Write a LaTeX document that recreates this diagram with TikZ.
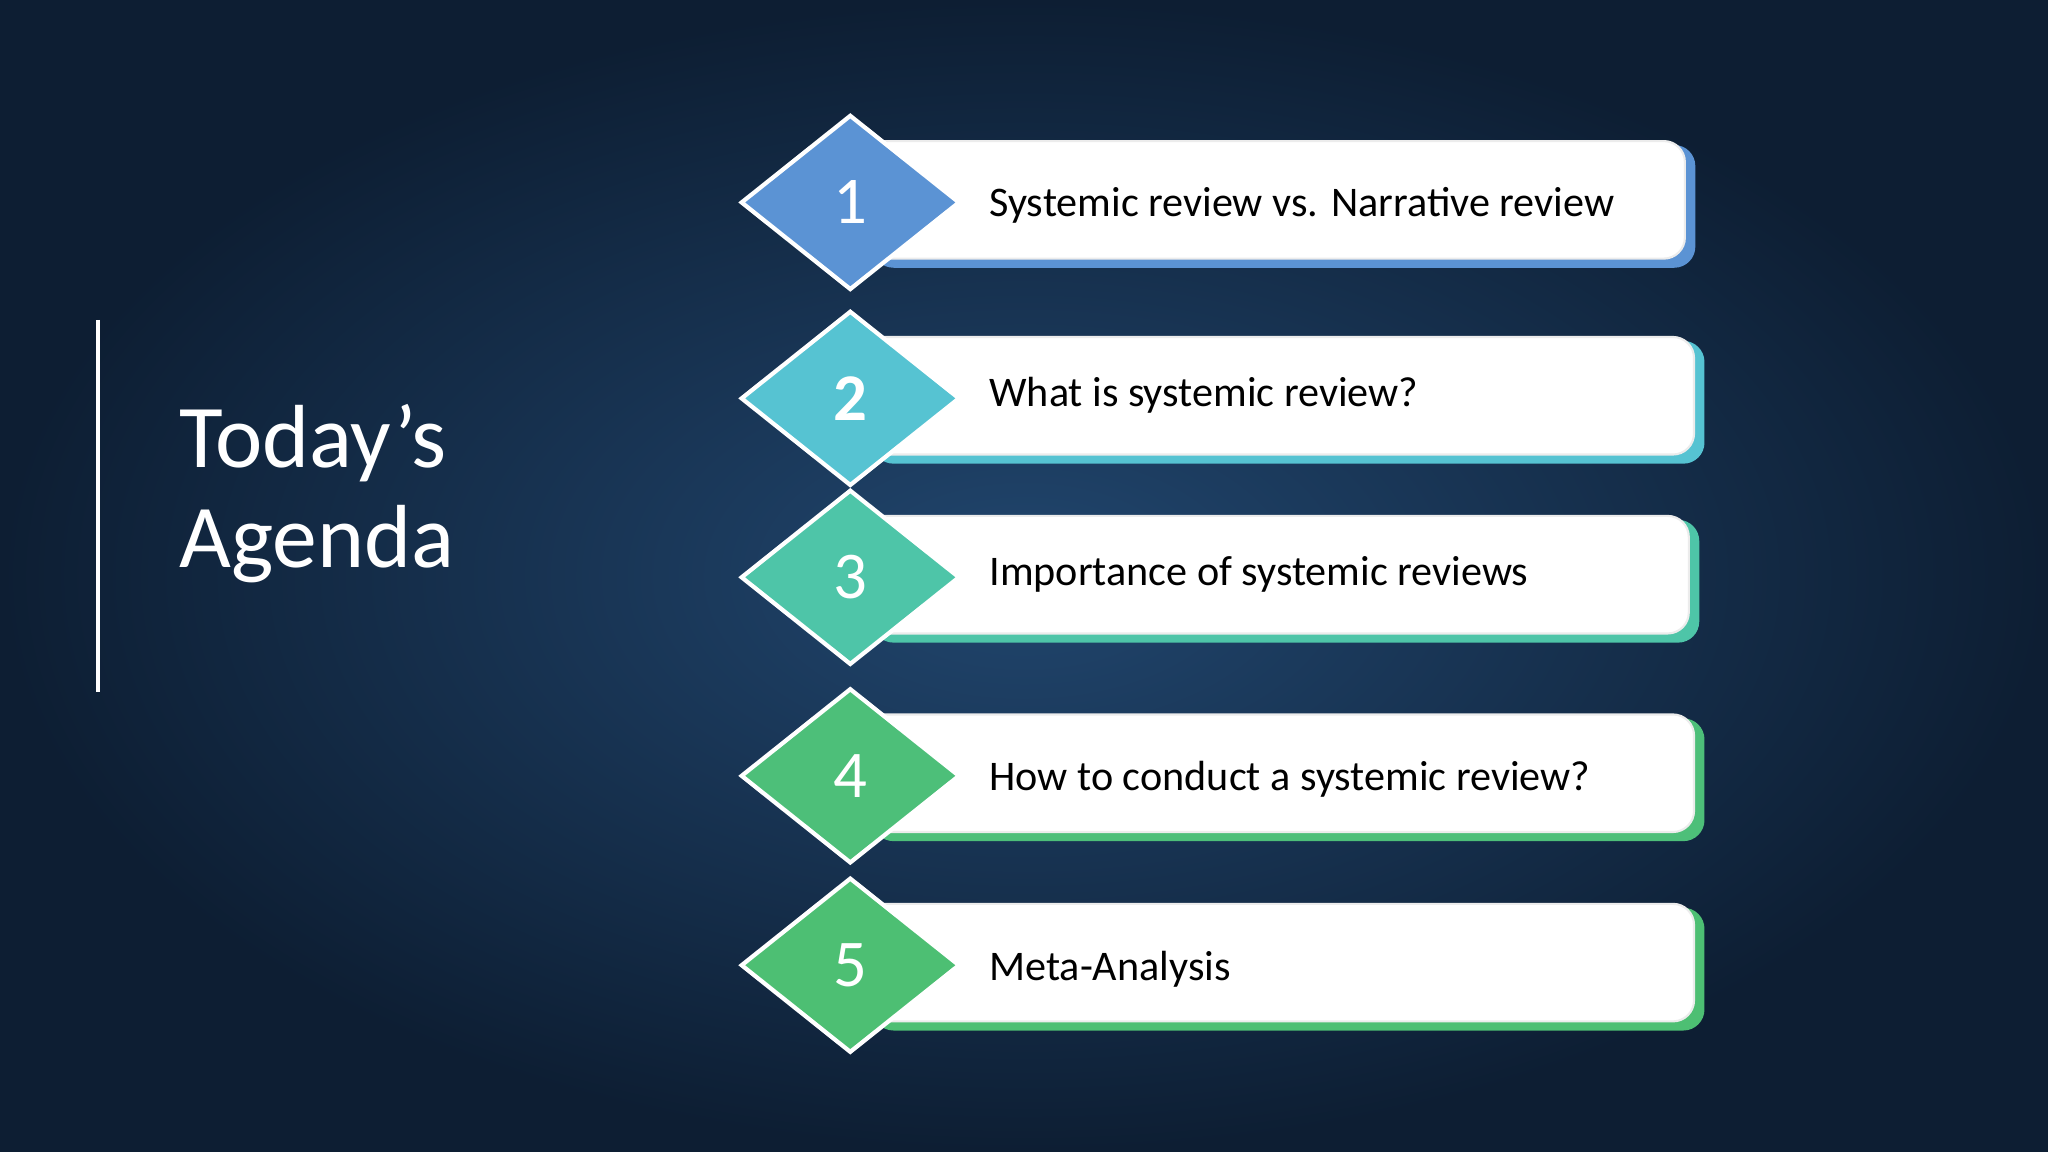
\documentclass[tikz,border=0pt]{standalone}
\usepackage{fontspec}
\setmainfont{Carlito}
\usetikzlibrary{shapes.geometric}
\definecolor{bgdark}{HTML}{0D1E33}
\definecolor{bglight}{HTML}{21466E}
\definecolor{cone}{HTML}{5B93D4}
\definecolor{ctwo}{HTML}{56C3D2}
\definecolor{cthree}{HTML}{4EC5A8}
\definecolor{cfour}{HTML}{4DBF79}
\definecolor{cfive}{HTML}{4DBF73}
\tikzset{
  itembox/.style={draw=white!85!gray,fill=white,rounded corners=6pt,line width=0.6pt},
  itemnum/.style={diamond,draw=white,line width=1.2pt,inner sep=0pt,
    minimum width=2.19cm,minimum height=1.75cm,text=white,font=\fontsize{19}{19}\selectfont},
  itemtext/.style={anchor=west,font=\fontsize{12}{14}\selectfont,text=black}
}
\begin{document}
\begin{tikzpicture}[x=0.013061cm,y=-0.013061cm]
  \useasboundingbox (0,0) rectangle (1568,882);
  \shade[inner color=bglight,outer color=bgdark] (0,0) rectangle (1568,882);
  % title
  \draw[white,line width=1.2pt] (75,245) -- (75,530);
  \node (title) [anchor=west,align=left,text=white,
    font=\fontsize{25.5}{28.5}\selectfont] at (128,378) {Today’s\\Agenda};
  % agenda items
  \foreach \n/\y/\ty/\r/\c/\t in {
      1/153/157/1290/cone/{Systemic review vs. Narrative review},
      2/303/303/1297/ctwo/{\textbf{2}},
      3/440/440/1293/cthree/{Importance of systemic reviews},
      4/592/597/1297/cfour/{How to conduct a systemic review?},
      5/737/742/1297/cfive/{Meta-Analysis}} {
    \fill[\c,rounded corners=6pt] (668,\y-42) rectangle (\r+8,\y+52);
    \draw[itembox] (660,\y-45) rectangle (\r,\y+45);
    \node (num\n) [itemnum,fill=\c] at (651,\y+2) {\ifnum\n=2 \textbf{2}\else\n\fi};
    \node (txt\n) [itemtext] at (748,\ty) {\ifnum\n=2 What is systemic review?\else\t\fi};
  }
\end{tikzpicture}
\end{document}
